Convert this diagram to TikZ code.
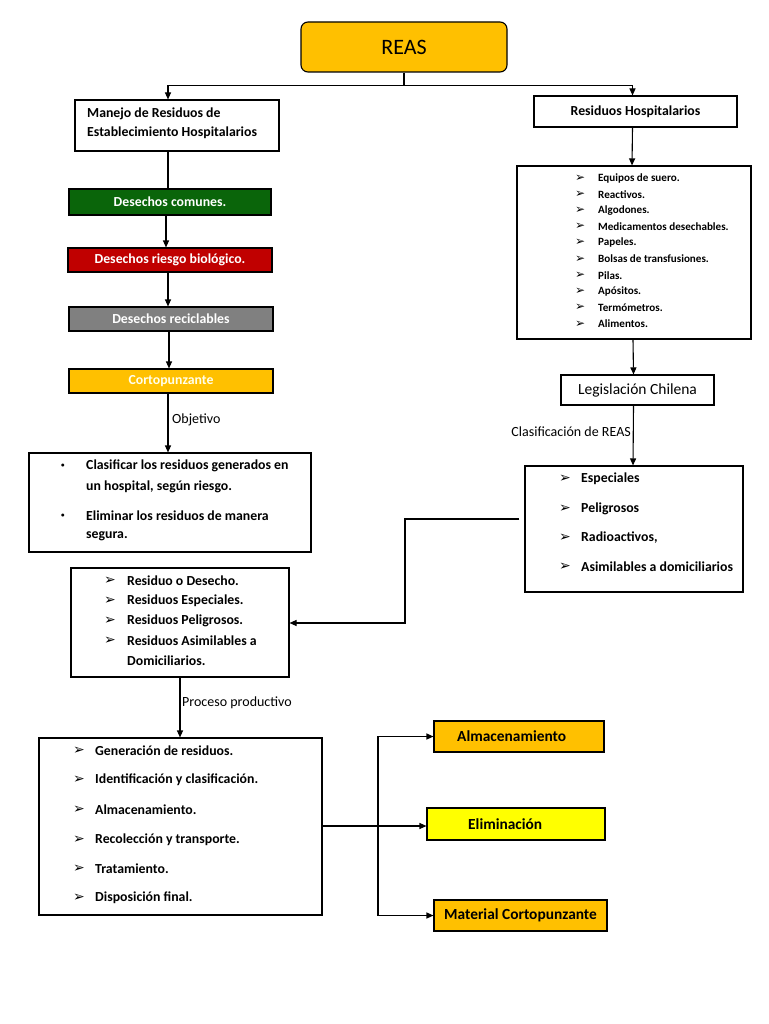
\documentclass[tikz,border=0pt]{standalone}
\usepackage{fontspec}
\setmainfont{Carlito}
\newfontfamily\dejavu{DejaVu Sans}
\usetikzlibrary{arrows.meta}
\definecolor{gold}{HTML}{FFC000}
\definecolor{dgreen}{HTML}{0A650A}
\definecolor{dred}{HTML}{C00000}
\definecolor{gry}{HTML}{808080}
\definecolor{yel}{HTML}{FFFF00}
\newcommand\bx[7]{\node[box,#6,minimum width={#4-#2},minimum height={#5-#3}] (#1) at ({(#2+#4)/2},{(#3+#5)/2}) {#7};}
\newcommand\ar{{\dejavu\fontsize{14}{14}\selectfont ➢}}
\newcommand\sar{{\dejavu\fontsize{12}{12}\selectfont ➢}}
\begin{document}
\begin{tikzpicture}[x=1pt,y=-1pt,
  box/.style={draw=black,line width=1.1pt,inner sep=0pt,font=\fontsize{13.8}{15}\selectfont\bfseries},
  arr/.style={-{Triangle[length=7pt,width=6pt]},line width=1.1pt},
  ln/.style={line width=1.1pt},
  txt/.style={inner sep=0pt,anchor=west,font=\fontsize{13.8}{15}\selectfont\bfseries},
  stxt/.style={inner sep=0pt,anchor=west,font=\fontsize{11.1}{12}\selectfont\bfseries},
  btxt/.style={inner sep=0pt,anchor=west,font=\fontsize{15.4}{17}\selectfont\bfseries},
  lbl/.style={inner sep=0pt,font=\fontsize{14}{16}\selectfont}]
\useasboundingbox (0,0) rectangle (768,1024);
\fill[white] (0,0) rectangle (768,1024);

% boxes
\node[box,fill=gold,rounded corners=7pt,minimum width=206,minimum height=50,font=\fontsize{22}{24}\selectfont] (reas) at (404,47) {REAS};
\bx{manejo}{75}{100}{279}{151}{}{}
\bx{hosp}{534}{96}{737}{127}{}{Residuos Hospitalarios}
\bx{lista}{517}{166}{751}{339}{}{}
\bx{legis}{561}{375}{714}{405}{font=\fontsize{15.5}{17}\selectfont}{Legislación Chilena}
\bx{esp}{525}{466}{743}{592}{}{}
\bx{comunes}{69}{189}{271}{215}{fill=dgreen,text=white}{Desechos comunes.}
\bx{riesgo}{68}{248}{272}{272}{fill=dred,text=white}{Desechos riesgo biológico.}
\bx{recic}{69}{307}{273}{331}{fill=gry,text=white}{Desechos reciclables}
\bx{corto}{69}{369}{273}{393}{fill=gold,text=white!92!yellow}{Cortopunzante}
\bx{clasif}{29}{453}{311}{552}{}{}
\bx{resid}{71}{568}{289}{677}{}{}
\bx{gen}{39}{738}{322}{915}{}{}
\bx{alm}{434}{721}{604}{752}{fill=gold}{}
\bx{elim}{427}{808}{605}{840}{fill=yel}{}
\bx{mat}{434}{900}{607}{931}{fill=gold,font=\fontsize{15.4}{17}\selectfont\bfseries}{Material Cortopunzante}

% texts inside boxes
\node[txt] (m1) at (87,114) {Manejo de Residuos de};
\node[txt] (m2) at (87,133) {Establecimiento Hospitalarios};
\node[btxt] (almt) at (457,736) {Almacenamiento};
\node[btxt] (elimt) at (468,824) {Eliminación};

\foreach \t [count=\i] in {Equipos de suero.,Reactivos.,Algodones.,Medicamentos desechables.,Papeles.,Bolsas de transfusiones.,Pilas.,Apósitos.,Termómetros.,Alimentos.}{
  \node[stxt] (lb\i) at (575,{178+16.2*(\i-1)}) {\sar};
  \node[stxt] (lt\i) at (598,{178+16.2*(\i-1)}) {\t};
}
\foreach \t/\y [count=\i] in {Especiales/479,Peligrosos/509,{Radioactivos,}/538,Asimilables a domiciliarios/567}{
  \node[txt] (eb\i) at (559,\y) {\ar};
  \node[txt] (et\i) at (581,\y) {\t};
}
\node[txt] (cb1) at (61,466) {\fontsize{7}{7}\selectfont •};
\node[txt] (cb2) at (61,516) {\fontsize{7}{7}\selectfont •};
\node[txt] (ct1) at (86,466) {Clasificar los residuos generados en};
\node[txt] (ct2) at (86,487) {un hospital, según riesgo.};
\node[txt] (ct3) at (86,516) {Eliminar los residuos de manera};
\node[txt] (ct4) at (86,536) {segura.};
\foreach \t/\y [count=\i] in {Residuo o Desecho./581,Residuos Especiales./601,Residuos Peligrosos./621,Residuos Asimilables a/641}{
  \node[txt] (rb\i) at (104,\y) {\ar};
  \node[txt] (rt\i) at (127,\y) {\t};
}
\node[txt] (rt5) at (127,661) {Domiciliarios.};
\foreach \t/\y [count=\i] in {Generación de residuos./751,Identificación y clasificación./780,Almacenamiento./810,Recolección y transporte./840,Tratamiento./869,Disposición final./898}{
  \node[txt] (gb\i) at (73,\y) {\ar};
  \node[txt] (gt\i) at (95,\y) {\t};
}

% labels
\node[lbl,anchor=west] (objl) at (172,420) {Objetivo};
\node[lbl,anchor=east] (clal) at (631,432) {Clasificación de REAS};
\node[lbl,anchor=west] (prol) at (182,703) {Proceso productivo};

% connectors
\draw[ln] (reas.south) -- ++(0,13) coordinate (j);
\draw[arr] (j) -| ([xshift=-9pt]manejo.north);
\draw[arr] (j) -| ([xshift=-3pt]hosp.north);
\draw[arr] ([xshift=-3pt]hosp.south) -- ([xshift=-2pt]lista.north);
\draw[arr] ([xshift=-1pt]lista.south) -- ([xshift=-4pt]legis.north);
\draw[arr] ([xshift=-4pt]legis.south) -- ([xshift=-1pt]esp.north);
\draw[ln] ([xshift=-9pt]manejo.south) -- ([xshift=-2pt]comunes.north);
\draw[arr] ([xshift=-4pt]comunes.south) -- ([xshift=-4pt]comunes.south |- riesgo.north);
\draw[arr] ([xshift=-2pt]riesgo.south) -- ([xshift=-3pt]recic.north);
\draw[arr] ([xshift=-2pt]recic.south) -- ([xshift=-2pt]corto.north);
\draw[arr] ([xshift=-3pt]corto.south) -- ([xshift=-3pt]corto.south |- clasif.north);
\coordinate (k1) at (405,519);
\coordinate (k2) at (405,623);
\draw[arr] ([xshift=-5pt]esp.west |- k1) -- (k1) -- (k2) -- (resid.east |- k2);
\draw[arr] (resid.south -| 180,0) -- (gen.north -| 180,0);
\coordinate (m) at (378,826);
\draw[ln] (gen.east |- m) -- (m);
\draw[arr] (m) -- (elim.west |- m);
\draw[arr] (m) |- (alm.west);
\draw[arr] (m) |- (mat.west);
\end{tikzpicture}
\end{document}
